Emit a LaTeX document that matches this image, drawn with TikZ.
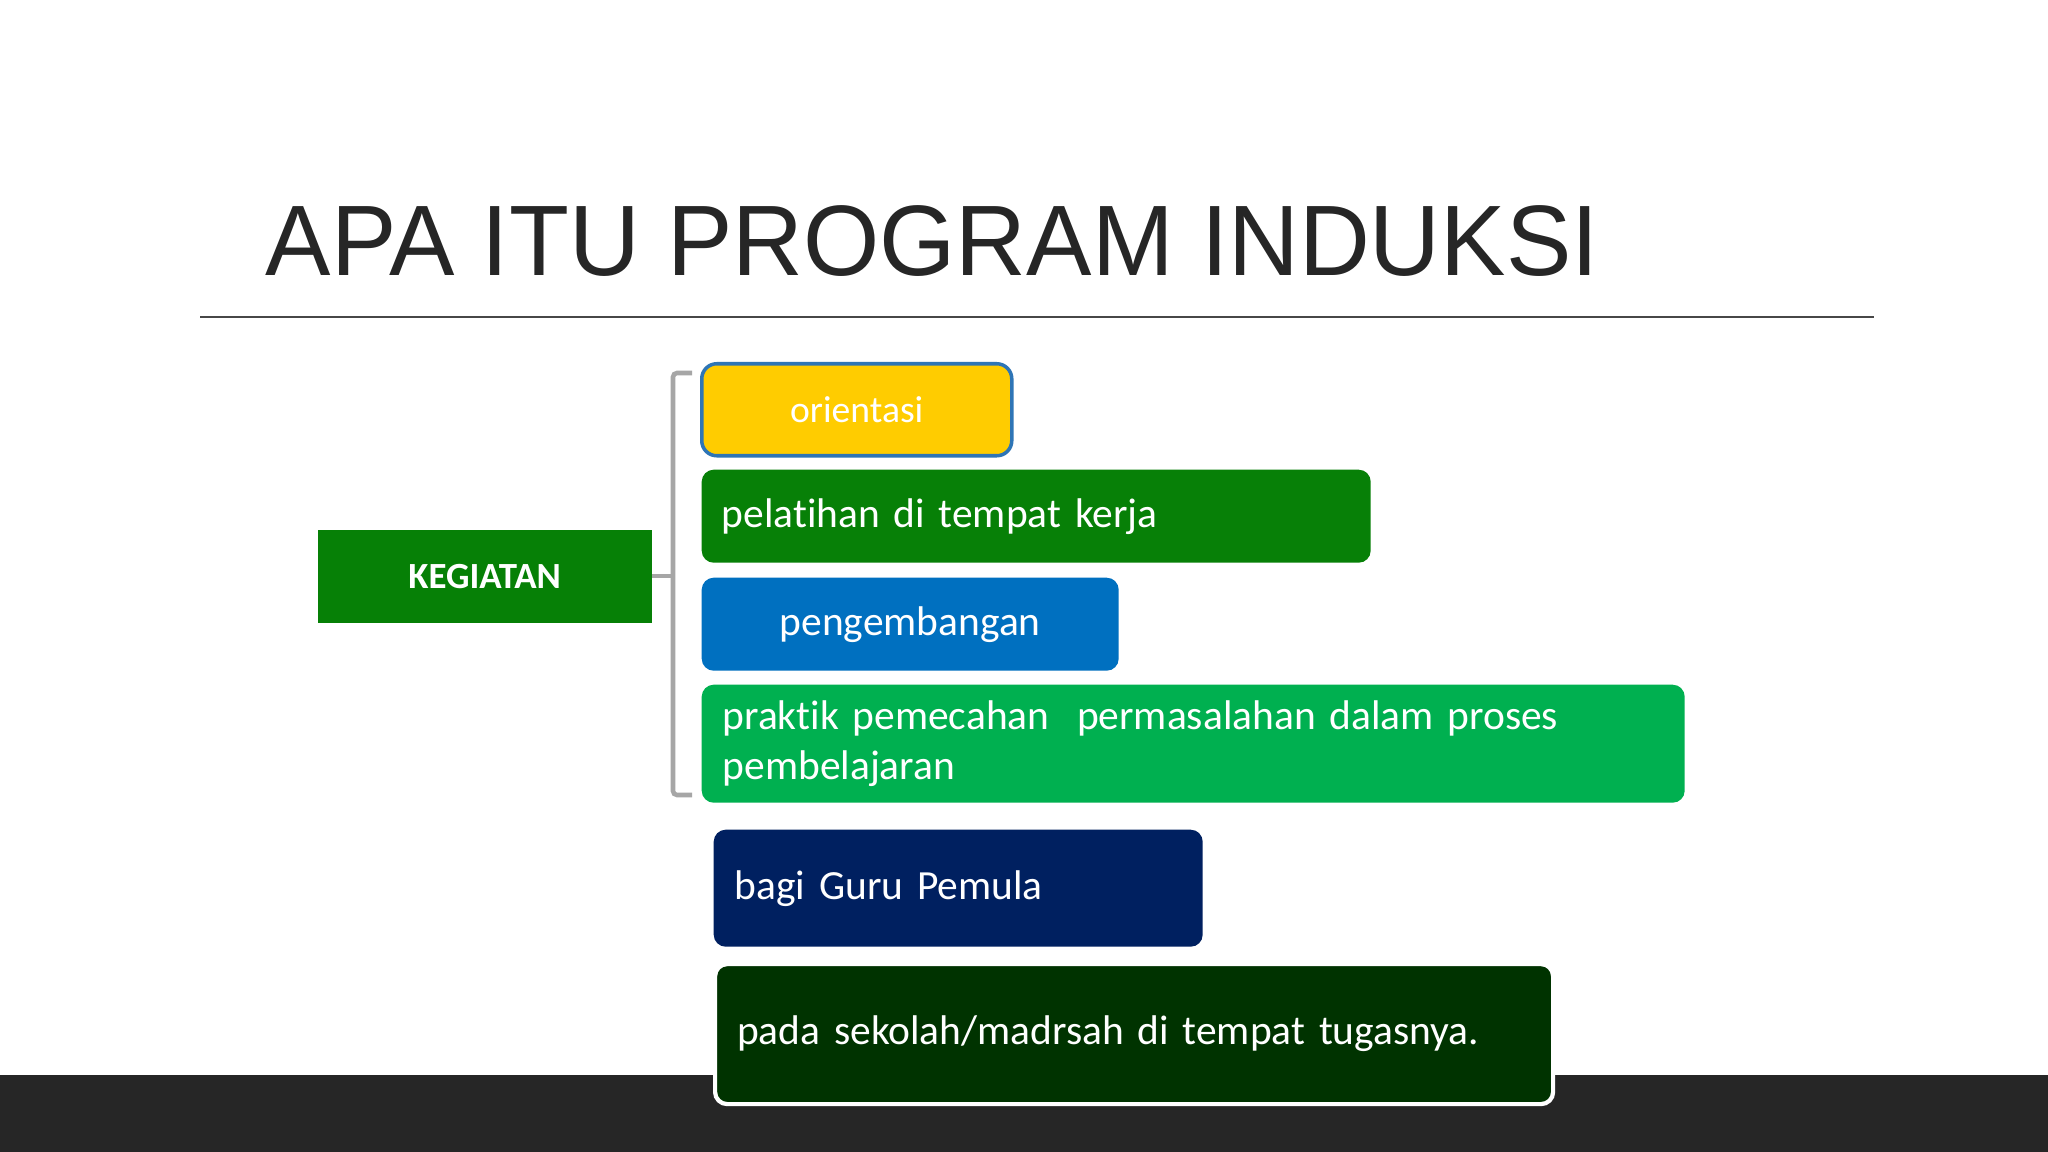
\documentclass[tikz,border=0pt]{standalone}
\usepackage{fontspec}
\setmainfont{Carlito}[Ligatures={NoCommon}]
\newfontfamily\titlefont{Liberation Sans}
\usetikzlibrary{positioning}

\definecolor{keggreen}{RGB}{6,128,6}
\definecolor{oriyellow}{RGB}{255,204,0}
\definecolor{oriblue}{RGB}{46,117,182}
\definecolor{pelgreen}{RGB}{7,128,7}
\definecolor{pengblue}{RGB}{0,112,192}
\definecolor{prakgreen}{RGB}{0,176,80}
\definecolor{gurunavy}{RGB}{0,32,96}
\definecolor{padagreen}{RGB}{0,51,0}
\definecolor{bandgray}{RGB}{38,38,38}
\definecolor{bracegray}{RGB}{166,166,166}

\tikzset{
    kotak/.style={anchor=north west, rounded corners=0.12cm, text=white, inner sep=0pt,
        font=\fontsize{11.8}{14.3}\selectfont},
    kirikotak/.style={kotak, align=left, text width=#1},
}

\begin{document}
\begin{tikzpicture}
[x=1cm, y=-1cm, every node/.style={color=black}]
    \coordinate (tl) at (0, 0);
    \coordinate (br) at (20.48, 11.52);
    \coordinate (brtop) at (6.92, 3.73);
    \coordinate (brbot) at (6.92, 7.95);
    \coordinate (brmid) at (6.73, 5.82);
    \useasboundingbox (tl) rectangle (br);
    \fill[white] (tl) rectangle (br);
    % bottom band
    \fill[bandgray] (0, 10.75) rectangle (br);
    % title
    \node[anchor=base west, inner sep=0pt, text=bandgray] (judul) at (2.65, 2.76)
        {\scalebox{0.979}[1]{\titlefont\fontsize{28.5}{30}\selectfont APA ITU PROGRAM INDUKSI}};
    \draw[line width=0.6pt, color=bandgray!85] (2.00, 3.17) -- (18.74, 3.17);
    % left box
    \node[anchor=north west, fill=keggreen, minimum width=3.34cm, minimum height=0.93cm,
        text=white, font=\bfseries\fontsize{10.5}{12}\selectfont] (kegiatan) at (3.17, 5.29) {KEGIATAN};
    % boxes
    \node[kotak, fill=oriyellow, draw=oriblue, line width=1pt, rounded corners=0.15cm,
        minimum width=3.10cm, minimum height=0.92cm,
        font=\fontsize{10.7}{12}\selectfont] (orientasi) at (7.00, 3.62) {orientasi};
    \node[kirikotak=6.29cm, fill=pelgreen, minimum height=0.93cm, inner xsep=0.2cm]
        (pelatihan) at (7.01, 4.69) {pelatihan di tempat kerja};
    \node[kotak, fill=pengblue, minimum width=4.17cm, minimum height=0.93cm]
        (pengembangan) at (7.01, 5.77) {pengembangan};
    \node[kirikotak=9.41cm, fill=prakgreen, minimum height=1.18cm, inner xsep=0.21cm]
        (praktik) at (7.01, 6.84) {praktik pemecahan\ \ permasalahan dalam proses\\pembelajaran};
    \node[kirikotak=4.47cm, fill=gurunavy, minimum height=1.17cm, inner xsep=0.21cm]
        (guru) at (7.13, 8.29) {bagi Guru Pemula};
    \node[kirikotak=7.94cm, fill=padagreen, draw=white, line width=1.2pt,
        minimum height=1.40cm, inner xsep=0.22cm]
        (pada) at (7.13, 9.62) {pada sekolah/madrsah di tempat tugasnya.};
    % bracket
    \draw[bracegray, line width=1.3pt, rounded corners=0.04cm]
        (brtop) -- (brtop -| brmid) -- (brbot -| brmid) -- (brbot);
    \draw[bracegray, line width=1.3pt] (kegiatan.east) -- (kegiatan.east -| brmid);
\end{tikzpicture}
\end{document}
